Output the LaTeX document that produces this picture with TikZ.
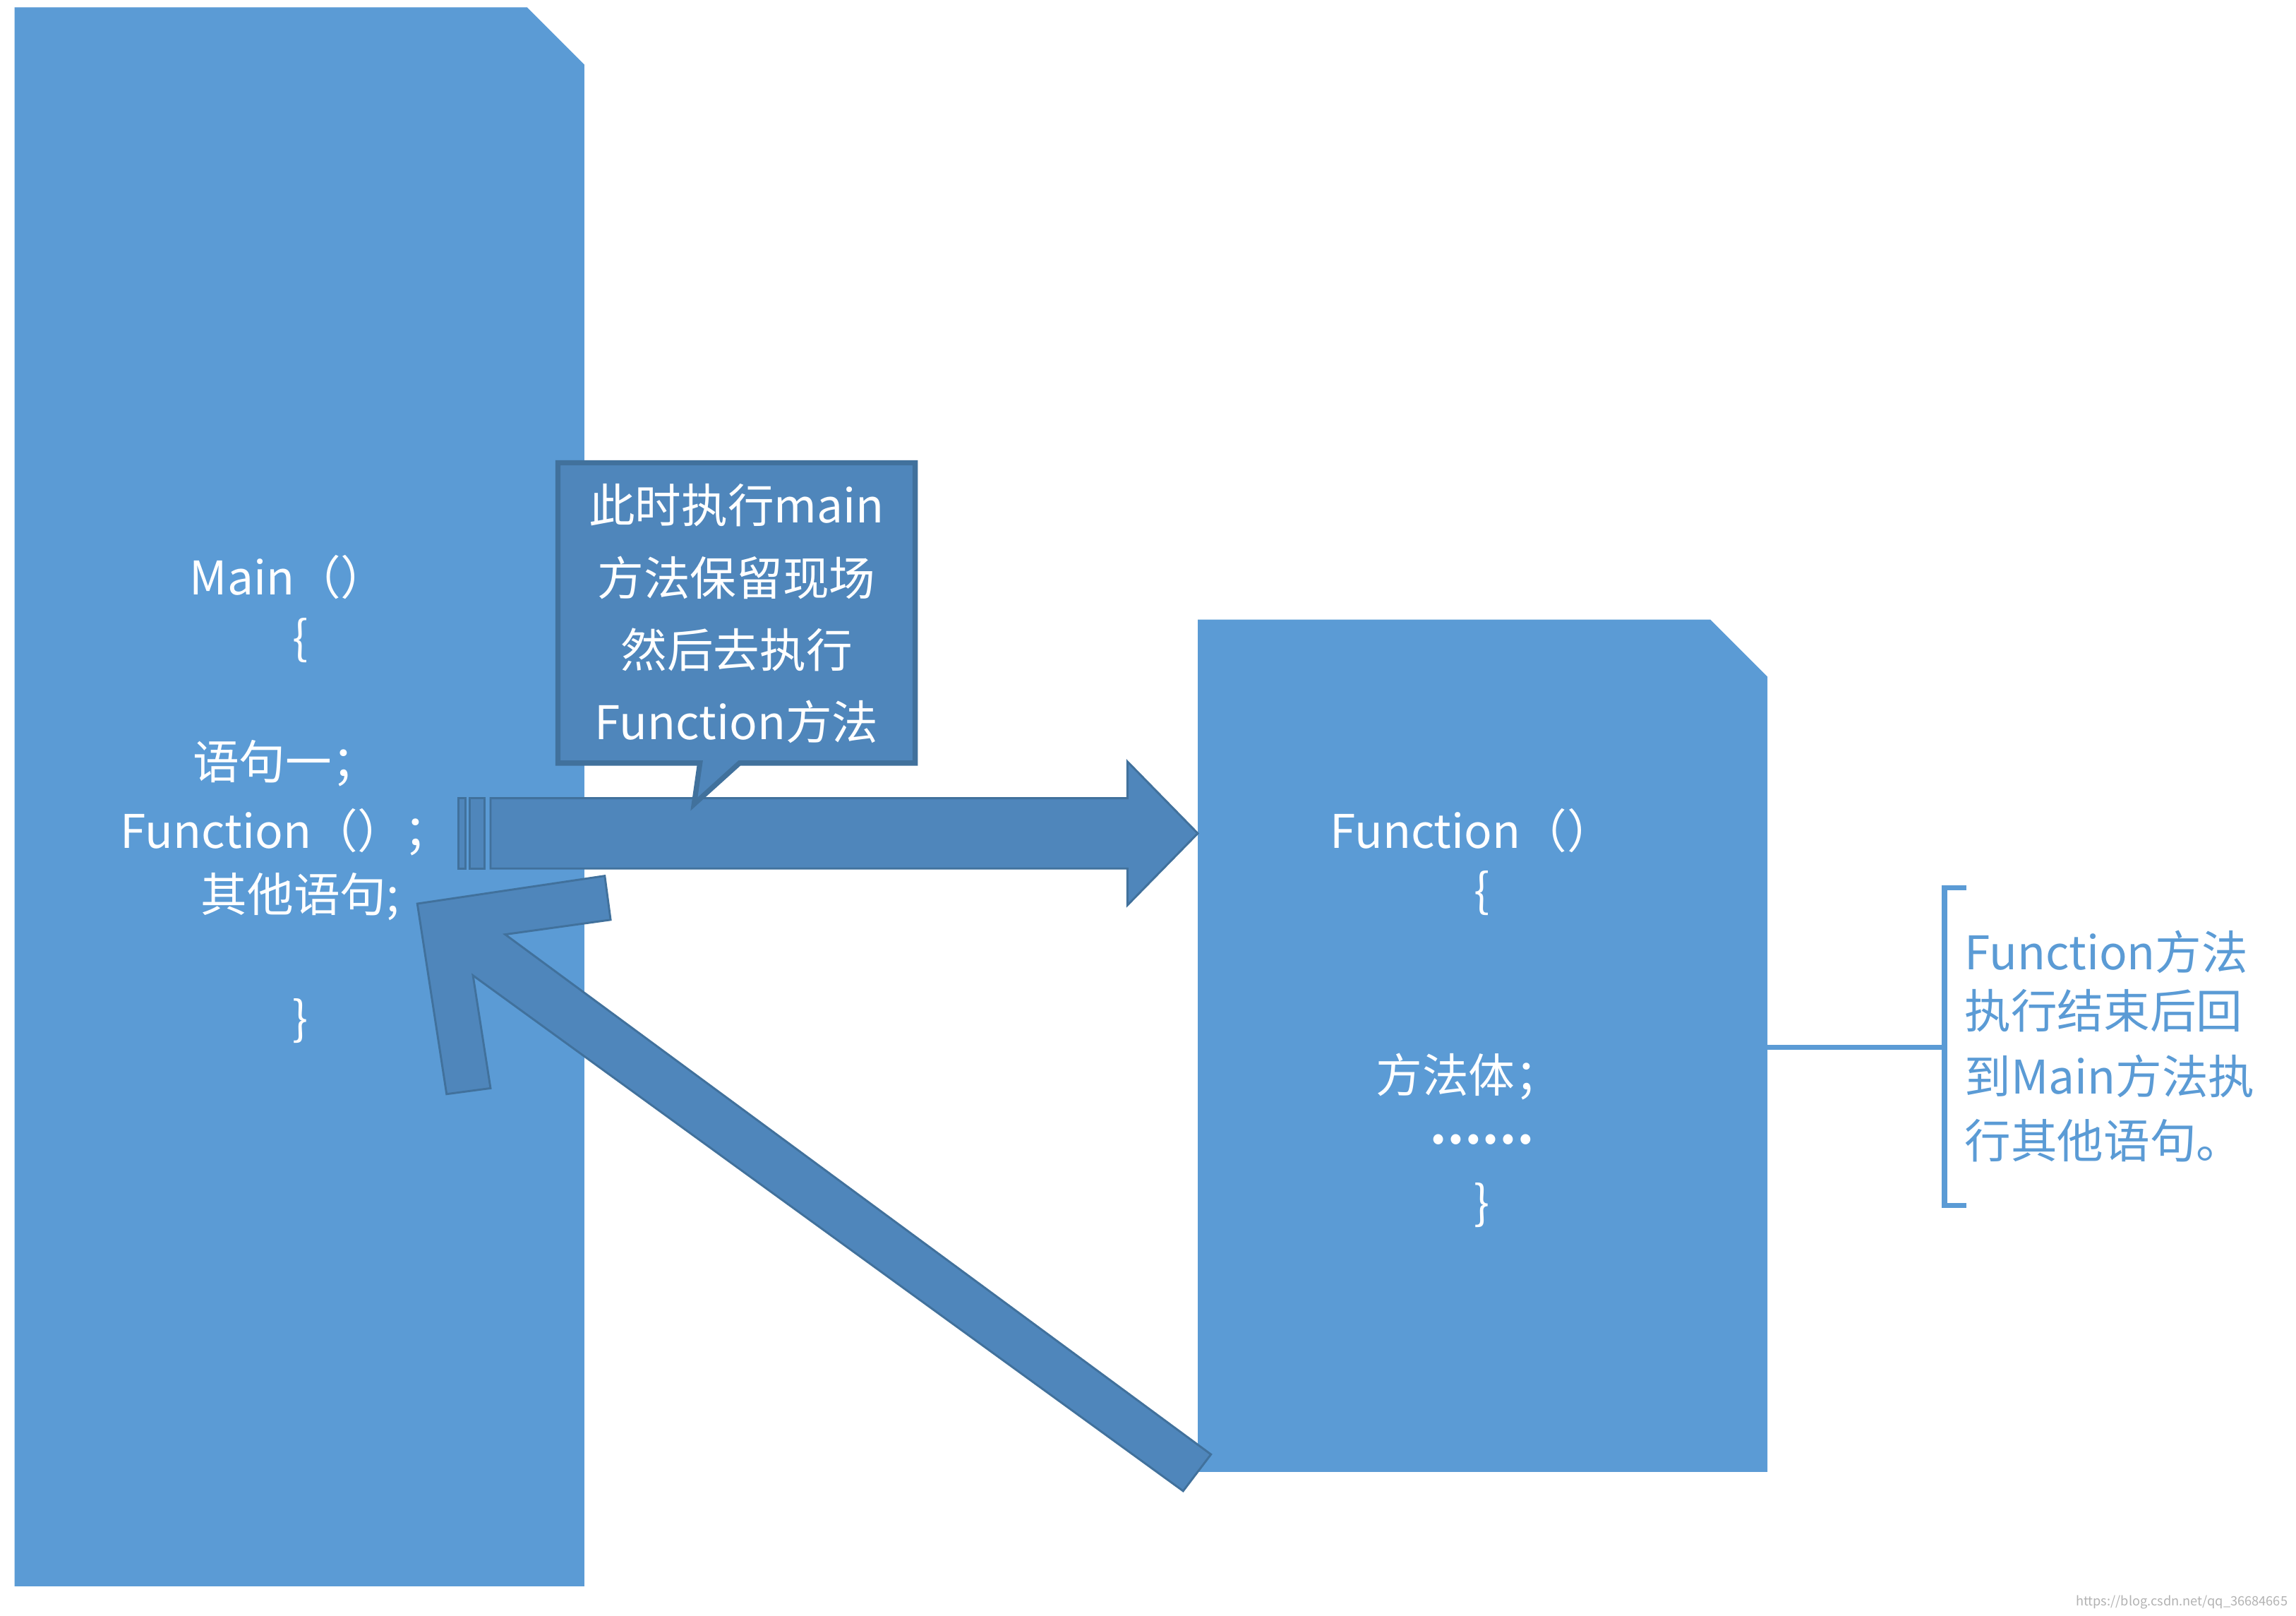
\documentclass[tikz,border=0pt]{standalone}
\usepackage{fontspec}
\setmainfont{Noto Sans CJK SC}
\usetikzlibrary{positioning}
\definecolor{docblue}{HTML}{5B9BD5}
\definecolor{arrblue}{HTML}{4F86BB}
\definecolor{edgeblue}{HTML}{41719C}
\tikzset{
  doctext/.style={text=white,font=\fontsize{9}{11}\selectfont,inner sep=0pt},
  notetext/.style={text=docblue,font=\fontsize{9}{11}\selectfont,inner sep=0pt,anchor=west},
  bigarrow/.style={fill=arrblue,draw=edgeblue,line width=0.4pt}
}
\begin{document}
\begin{tikzpicture}[x=0.01cm,y=-0.01cm]
\useasboundingbox (0,0) rectangle (1568,1103);

% main document
\fill[docblue] (10,5) -- (360,5) -- (399,44) -- (399,1083) -- (10,1083) -- cycle;
\node[doctext] (m1) at (197,394) {Main（）};
\node[doctext] (m2) at (205,437) {\{};
\node[doctext] (m3) at (195,521) {语句一；};
\node[doctext] (m4) at (195,568) {Function（）；};
\node[doctext] (m5) at (205,612) {其他语句;};
\node[doctext] (m6) at (205,697) {\}};

% function document
\fill[docblue] (818,423) -- (1168,423) -- (1207,462) -- (1207,1005) -- (818,1005) -- cycle;
\node[doctext] (f1) at (1005,567) {Function（）};
\node[doctext] (f2) at (1012,610) {\{};
\node[doctext] (f3) at (1003,735) {方法体；};
\node[doctext] (f4) at (1012,778) {\textbf{……}};
\node[doctext] (f5) at (1012,823) {\}};

% call arrow
\draw[bigarrow] (313,545) rectangle (318,593);
\draw[bigarrow] (321,545) rectangle (331,593);
\draw[bigarrow] (335,545) -- (770,545) -- (770,520) -- (818,569) -- (770,618) -- (770,593) -- (335,593) -- cycle;

% return arrow
\draw[bigarrow] (827,993) -- (345,638) -- (417,628) -- (413,598) -- (285,617)
  -- (305,747) -- (335,743) -- (323,666) -- (808,1018) -- cycle;

% callout
\draw[bigarrow,line width=1pt] (381,316) -- (625,316) -- (625,521) -- (505,521) -- (474,549)
  -- (478,521) -- (381,521) -- cycle;
\node[doctext,align=center] (call) at (503,419) {此时执行main\\[3pt]方法保留现场\\[3pt]然后去执行\\[3pt]Function方法};

% note
\coordinate (fr) at (1207,715);
\coordinate (br) at (1328,715);
\draw[docblue,line width=1pt] (fr) -- (br);
\draw[docblue,line width=1pt] (1343,606) -- (1328,606) -- (1328,823) -- (1343,823);
\node[notetext] (n1) at (1341,650) {Function方法};
\node[notetext] (n2) at (1341,690) {执行结束后回};
\node[notetext] (n3) at (1341,735) {到Main方法执};
\node[notetext] (n4) at (1341,779) {行其他语句。};

\node[text=gray!60,font=\fontsize{2.5}{3}\selectfont,anchor=east,inner sep=0pt] (wm) at (1563,1094) {https://blog.csdn.net/qq\_36684665};
\end{tikzpicture}
\end{document}
